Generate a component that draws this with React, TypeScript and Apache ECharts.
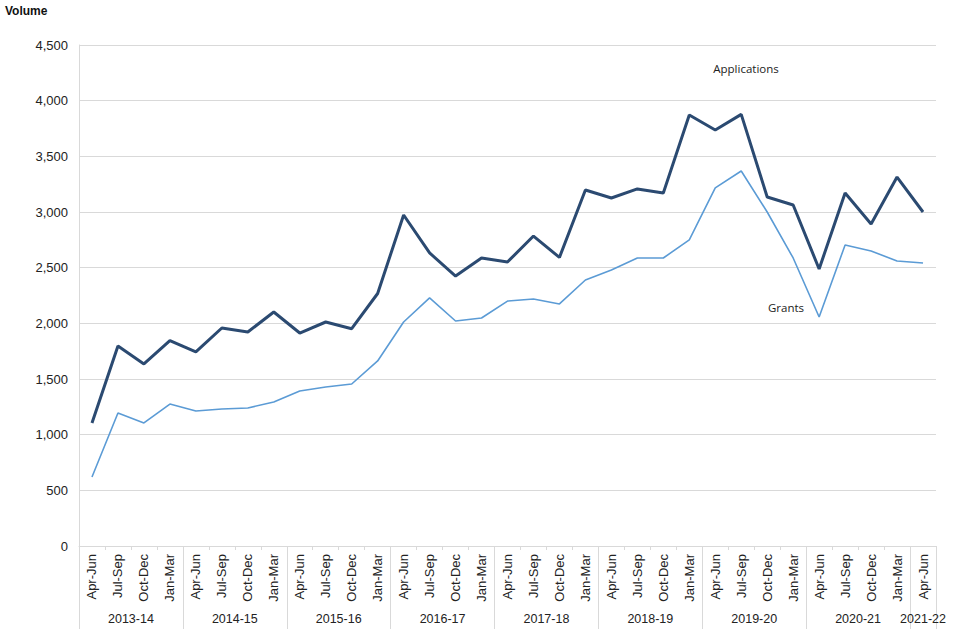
import React, { useEffect, useRef } from "react";
import * as echarts from "echarts";

const quarterLabels = [
  "Apr-Jun", "Jul-Sep", "Oct-Dec", "Jan-Mar",
  "Apr-Jun", "Jul-Sep", "Oct-Dec", "Jan-Mar",
  "Apr-Jun", "Jul-Sep", "Oct-Dec", "Jan-Mar",
  "Apr-Jun", "Jul-Sep", "Oct-Dec", "Jan-Mar",
  "Apr-Jun", "Jul-Sep", "Oct-Dec", "Jan-Mar",
  "Apr-Jun", "Jul-Sep", "Oct-Dec", "Jan-Mar",
  "Apr-Jun", "Jul-Sep", "Oct-Dec", "Jan-Mar",
  "Apr-Jun", "Jul-Sep", "Oct-Dec", "Jan-Mar",
  "Apr-Jun",
];

const yearLabels = [
  "2013-14", "2014-15", "2015-16", "2016-17", "2017-18",
  "2018-19", "2019-20", "2020-21", "2021-22",
];
// centre of each financial year's group on a 0..33 quarter scale
const yearCentres = [2, 6, 10, 14, 18, 22, 26, 30, 32.5];
// boundaries between financial years on the same scale
const yearBoundaries = [0, 4, 8, 12, 16, 20, 24, 28, 32, 33];

const applications = [
  1105, 1796, 1635, 1845, 1743, 1958, 1922, 2102,
  1913, 2012, 1952, 2268, 2973, 2632, 2425, 2587,
  2551, 2784, 2592, 3198, 3126, 3207, 3171, 3871,
  3737, 3877, 3135, 3063, 2488, 3171, 2892, 3314,
  3000,
];

const grants = [
  620, 1195, 1105, 1275, 1213, 1231, 1240, 1293,
  1392, 1428, 1455, 1662, 2012, 2228, 2021, 2048,
  2200, 2218, 2174, 2389, 2479, 2587, 2587, 2749,
  3216, 3368, 3000, 2587, 2057, 2704, 2650, 2560,
  2542,
];

const yTicks = { min: 0, max: 4500, interval: 500 };

const FONT = "'Liberation Sans', Arial, sans-serif";
const GRID = "#d9d9d9";
const TEXT = "#222222";

export default function App() {
  const ref = useRef<HTMLDivElement>(null);

  useEffect(() => {
    if (!ref.current) return;
    const chart = echarts.init(ref.current, undefined, { renderer: "svg" });
    chart.setOption({
      animation: false,
      backgroundColor: "#ffffff",
      textStyle: { fontFamily: FONT },
      grid: { left: 79, right: 24, top: 45, bottom: 94 },
      xAxis: [
        {
          type: "category",
          data: quarterLabels,
          boundaryGap: true,
          axisLine: { show: true, lineStyle: { color: GRID, width: 1 } },
          axisTick: { show: true, length: 4, lineStyle: { color: GRID } },
          axisLabel: {
            rotate: 90,
            interval: 0,
            margin: 8,
            fontSize: 13,
            color: TEXT,
            fontFamily: FONT,
          },
          splitLine: { show: false },
        },
        {
          type: "value",
          position: "bottom",
          min: 0,
          max: 33,
          axisLine: { show: false },
          splitLine: { show: false },
          axisTick: {
            show: true,
            length: 83,
            customValues: yearBoundaries,
            lineStyle: { color: GRID, width: 1 },
          },
          axisLabel: {
            show: true,
            customValues: yearCentres,
            margin: 66,
            fontSize: 12.5,
            color: TEXT,
            fontFamily: FONT,
            formatter: (v: number) => {
              const i = yearCentres.indexOf(v);
              return i >= 0 ? yearLabels[i] : "";
            },
          },
        },
      ],
      yAxis: {
        type: "value",
        min: yTicks.min,
        max: yTicks.max,
        interval: yTicks.interval,
        axisLine: { show: true, lineStyle: { color: GRID, width: 1 } },
        axisTick: { show: false },
        axisLabel: {
          margin: 11,
          fontSize: 13,
          color: TEXT,
          fontFamily: FONT,
          formatter: (v: number) => v.toLocaleString("en-US"),
        },
        splitLine: { show: true, lineStyle: { color: GRID, width: 1 } },
      },
      series: [
        {
          name: "Applications",
          type: "line",
          xAxisIndex: 0,
          data: applications,
          symbol: "none",
          lineStyle: { color: "#2b4a71", width: 3 },
          itemStyle: { color: "#2b4a71" },
          z: 3,
        },
        {
          name: "Grants",
          type: "line",
          xAxisIndex: 0,
          data: grants,
          symbol: "none",
          lineStyle: { color: "#5b9bd5", width: 1.6 },
          itemStyle: { color: "#5b9bd5" },
          z: 2,
        },
      ],
      graphic: [
        {
          type: "text",
          left: 5,
          top: 5,
          style: {
            text: "Volume",
            font: `bold 12px ${FONT}`,
            fill: "#111111",
          },
        },
        {
          type: "text",
          x: 746,
          y: 68,
          style: {
            text: "Applications",
            font: `11.5px 'Open Sans', ${FONT}`,
            fill: TEXT,
            align: "center",
            verticalAlign: "middle",
          },
        },
        {
          type: "text",
          x: 786,
          y: 307,
          style: {
            text: "Grants",
            font: `11.5px 'Open Sans', ${FONT}`,
            fill: TEXT,
            align: "center",
            verticalAlign: "middle",
          },
        },
      ],
    });
    return () => chart.dispose();
  }, []);

  return (
    <div
      ref={ref}
      style={{ position: "fixed", left: 0, top: 0, width: 960, height: 640 }}
    />
  );
}
